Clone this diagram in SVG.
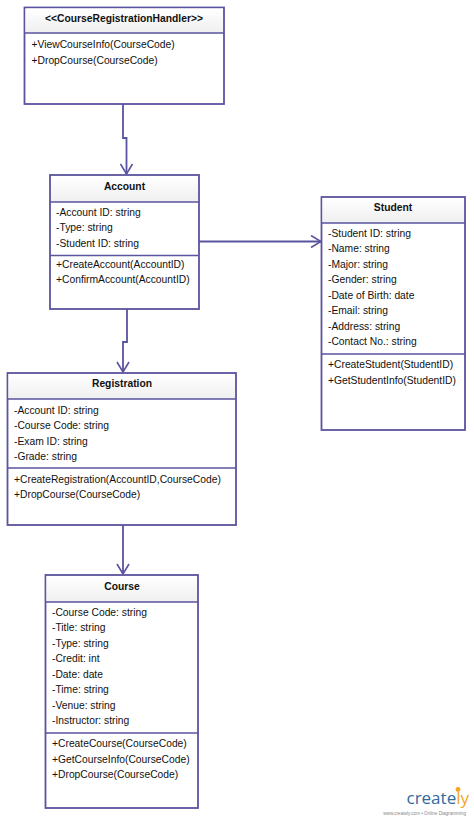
<svg xmlns="http://www.w3.org/2000/svg" width="474" height="818" viewBox="0 0 474 818">
<defs>
<linearGradient id="hdr" x1="0" y1="0" x2="0" y2="1">
<stop offset="0" stop-color="#ffffff"/>
<stop offset="1" stop-color="#efefef"/>
</linearGradient>
<marker id="open" viewBox="0 0 12 14" refX="11" refY="7" markerWidth="12" markerHeight="14" markerUnits="userSpaceOnUse" orient="auto">
<path d="M1,1 L11,7 L1,13" fill="none" stroke="#5a539e" stroke-width="1.6"/>
</marker>
<style>
.box{fill:#ffffff;stroke:#5a539e;stroke-width:1.8}
.hd{fill:url(#hdr);stroke:none}
.sep{stroke:#5a539e;stroke-width:1.6}
.t{font-family:"Liberation Sans",Arial,sans-serif;font-size:10.3px;fill:#111111}
.b{font-family:"Liberation Sans",Arial,sans-serif;font-size:10.3px;font-weight:bold;fill:#111;text-anchor:middle}
.c{fill:none;stroke:#5a539e;stroke-width:1.8;marker-end:url(#open)}
</style>
</defs>
<rect width="474" height="818" fill="#ffffff"/>

<g id="connectors">
<path class="c" d="M123,104 V138 H126.5 V174"/>
<path class="c" d="M199,241.5 H321"/>
<path class="c" d="M127,309 V342 H123 V372"/>
<path class="c" d="M123,525 V574"/>
</g>

<g id="handler">
<rect class="box" x="24.5" y="7.5" width="199.5" height="96.5"/>
<rect class="hd" x="25.5" y="8.5" width="197.5" height="24.5"/>
<line class="sep" x1="24.5" y1="33" x2="224" y2="33"/>
<text class="b" x="124" y="21.5">&lt;&lt;CourseRegistrationHandler&gt;&gt;</text>
<text class="t" x="31.5" y="47.5">+ViewCourseInfo(CourseCode)</text>
<text class="t" x="31.5" y="63.5">+DropCourse(CourseCode)</text>
</g>

<g id="account">
<rect class="box" x="50" y="175" width="149" height="134"/>
<rect class="hd" x="51" y="176" width="147" height="26"/>
<line class="sep" x1="50" y1="202" x2="199" y2="202"/>
<line class="sep" x1="50" y1="255.5" x2="199" y2="255.5"/>
<text class="b" x="124.5" y="189.5">Account</text>
<text class="t" x="56" y="215.7">-Account ID: string</text>
<text class="t" x="56" y="231.3">-Type: string</text>
<text class="t" x="56" y="246.8">-Student ID: string</text>
<text class="t" x="56" y="267.6">+CreateAccount(AccountID)</text>
<text class="t" x="56" y="283">+ConfirmAccount(AccountID)</text>
</g>

<g id="student">
<rect class="box" x="321.5" y="197" width="143.5" height="233"/>
<rect class="hd" x="322.5" y="198" width="141.5" height="25"/>
<line class="sep" x1="321.5" y1="223" x2="465" y2="223"/>
<line class="sep" x1="321.5" y1="354" x2="465" y2="354"/>
<text class="b" x="393" y="210.7">Student</text>
<text class="t" x="328" y="236.7">-Student ID: string</text>
<text class="t" x="328" y="252.2">-Name: string</text>
<text class="t" x="328" y="267.7">-Major: string</text>
<text class="t" x="328" y="283.2">-Gender: string</text>
<text class="t" x="328" y="298.7">-Date of Birth: date</text>
<text class="t" x="328" y="314.2">-Email: string</text>
<text class="t" x="328" y="329.7">-Address: string</text>
<text class="t" x="328" y="345.2">-Contact No.: string</text>
<text class="t" x="328" y="368">+CreateStudent(StudentID)</text>
<text class="t" x="328" y="383.5">+GetStudentInfo(StudentID)</text>
</g>

<g id="registration">
<rect class="box" x="7.5" y="373" width="228.5" height="152"/>
<rect class="hd" x="8.5" y="374" width="226.5" height="25"/>
<line class="sep" x1="7.5" y1="399" x2="236" y2="399"/>
<line class="sep" x1="7.5" y1="468" x2="236" y2="468"/>
<text class="b" x="122" y="386.7">Registration</text>
<text class="t" x="14" y="413.5">-Account ID: string</text>
<text class="t" x="14" y="429">-Course Code: string</text>
<text class="t" x="14" y="444.5">-Exam ID: string</text>
<text class="t" x="14" y="460">-Grade: string</text>
<text class="t" x="14" y="482.5">+CreateRegistration(AccountID,CourseCode)</text>
<text class="t" x="14" y="498">+DropCourse(CourseCode)</text>
</g>

<g id="course">
<rect class="box" x="45.5" y="575" width="152.5" height="233"/>
<rect class="hd" x="46.5" y="576" width="150.5" height="26"/>
<line class="sep" x1="45.5" y1="602" x2="198" y2="602"/>
<line class="sep" x1="45.5" y1="733" x2="198" y2="733"/>
<text class="b" x="122" y="589.5">Course</text>
<text class="t" x="52" y="615.7">-Course Code: string</text>
<text class="t" x="52" y="631.2">-Title: string</text>
<text class="t" x="52" y="646.7">-Type: string</text>
<text class="t" x="52" y="662.2">-Credit: int</text>
<text class="t" x="52" y="677.7">-Date: date</text>
<text class="t" x="52" y="693.2">-Time: string</text>
<text class="t" x="52" y="708.7">-Venue: string</text>
<text class="t" x="52" y="724.2">-Instructor: string</text>
<text class="t" x="52" y="747">+CreateCourse(CourseCode)</text>
<text class="t" x="52" y="762.5">+GetCourseInfo(CourseCode)</text>
<text class="t" x="52" y="778">+DropCourse(CourseCode)</text>
</g>

<g id="logo">
<circle cx="458" cy="789.5" r="2.4" fill="#f5a623"/>
<text x="469" y="804" text-anchor="end" font-family="'Open Sans','Liberation Sans',sans-serif" font-size="17" fill="#2e6a9e">create<tspan fill="#f5a623">ly</tspan></text>
<text x="466" y="814.5" text-anchor="end" font-family="'Liberation Sans',Arial,sans-serif" font-size="4.6" fill="#888888">www.creately.com • Online Diagramming</text>
</g>
</svg>
